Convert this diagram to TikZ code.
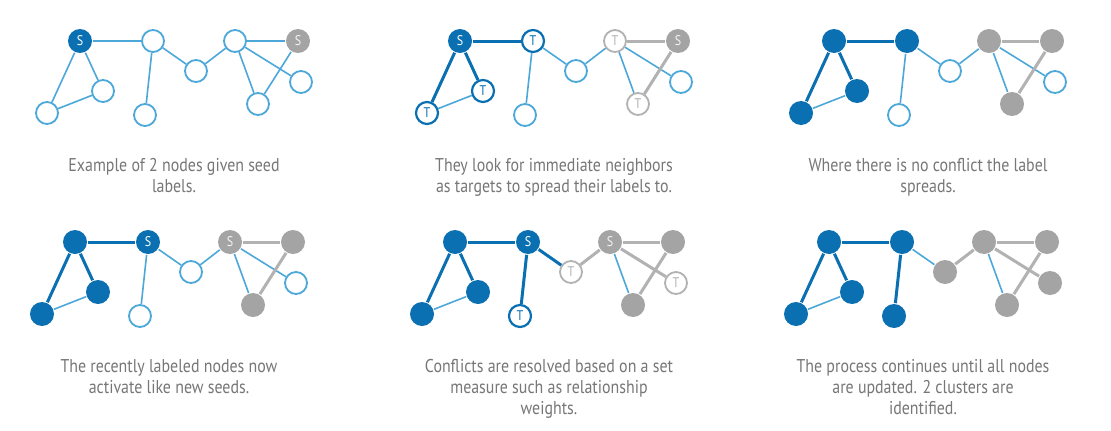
\documentclass[tikz,border=0pt]{standalone}
\usepackage{fontspec}
\setmainfont{PT Sans}[FakeStretch=0.86]
\usetikzlibrary{positioning}

\definecolor{lpblue}{HTML}{0A70B2}
\definecolor{lplight}{HTML}{4DA8DA}
\definecolor{lpgray}{HTML}{A4A4A4}
\definecolor{lpgrayline}{HTML}{B2B2B2}
\definecolor{lptext}{HTML}{777777}

\tikzset{
	vtx/.style={circle, minimum size=22pt, inner sep=0pt, line width=1.8pt},
	free/.style={vtx, draw=lplight, fill=white},
	bluedot/.style={vtx, draw=none, fill=lpblue, minimum size=24pt},
	graydot/.style={vtx, draw=none, fill=lpgray, minimum size=24pt},
	seedblue/.style={bluedot, label={[text=white, font=\fontsize{14}{14}\selectfont]center:S}},
	seedgray/.style={graydot, label={[text=white!88!lpgray, font=\fontsize{14}{14}\selectfont]center:S}},
	bluetgt/.style={vtx, draw=lpblue, fill=white, line width=2.2pt, label={[text=lpblue, font=\fontsize{14}{14}\selectfont]center:T}},
	graytgt/.style={vtx, draw=lpgrayline, fill=white, label={[text=lpgrayline, font=\fontsize{14}{14}\selectfont]center:T}},
	lnk/.style={lplight, line width=1.6pt},
	bluethick/.style={lpblue, line width=3pt},
	graythick/.style={lpgrayline, line width=3pt},
	caption/.style={anchor=north, align=center, text=lptext, font=\fontsize{18.5}{21}\selectfont},
	% per panel: node looks vS..vI, edge looks eSA..eGH
	vS/.style={}, vA/.style={}, vB/.style={}, vC/.style={}, vG/.style={},
	vD/.style={}, vE/.style={}, vF/.style={}, vH/.style={}, vI/.style={},
	eSA/.style={}, eSD/.style={}, eSE/.style={}, eDE/.style={}, eAF/.style={}, eAB/.style={},
	eBC/.style={}, eCG/.style={}, eCH/.style={}, eCI/.style={}, eGH/.style={}
}

% one panel of the network, #1 = caption
\newcommand{\lpnet}[1]{%
	\node[free, vS] (S) at (80,41) {};
	\node[free, vA] (A) at (153,41) {};
	\node[free, vB] (B) at (196,71) {};
	\node[free, vC] (C) at (235,41) {};
	\node[free, vG] (G) at (298,41) {};
	\node[free, vD] (D) at (103,91) {};
	\node[free, vE] (E) at (47,113) {};
	\node[free, vF] (F) at (145,115) {};
	\node[free, vH] (H) at (258,104) {};
	\node[free, vI] (I) at (301,82) {};
	\draw[lnk, eSA] (S) -- (A);
	\draw[lnk, eSD] (S) -- (D);
	\draw[lnk, eSE] (S) -- (E);
	\draw[lnk, eDE] (D) -- (E);
	\draw[lnk, eAF] (A) -- (F);
	\draw[lnk, eAB] (A) -- (B);
	\draw[lnk, eBC] (B) -- (C);
	\draw[lnk, eCG] (C) -- (G);
	\draw[lnk, eCH] (C) -- (H);
	\draw[lnk, eCI] (C) -- (I);
	\draw[lnk, eGH] (G) -- (H);
	\node[caption] (cap) at (174,155) {#1};
}

\begin{document}
\begin{tikzpicture}[x=1pt, y=-1pt]
	\useasboundingbox[fill=white] (0,0) rectangle (1111,431);

	% top row
	\begin{scope}[name prefix=a-, vS/.style=seedblue, vG/.style=seedgray]
		\lpnet{Example of 2 nodes given seed\\labels.}
	\end{scope}
	\begin{scope}[name prefix=b-, shift={(380,0)},
			vS/.style=seedblue, vA/.style=bluetgt, vD/.style=bluetgt, vE/.style=bluetgt,
			vC/.style=graytgt, vH/.style=graytgt, vG/.style=seedgray,
			eSA/.style=bluethick, eSD/.style=bluethick, eSE/.style=bluethick,
			eCG/.style=graythick, eGH/.style=graythick]
		\lpnet{They look for immediate neighbors\\as targets to spread their labels to.}
	\end{scope}
	\begin{scope}[name prefix=c-, shift={(754,0)},
			vS/.style=bluedot, vA/.style=bluedot, vD/.style=bluedot, vE/.style=bluedot,
			vC/.style=graydot, vH/.style=graydot, vG/.style=graydot,
			eSA/.style=bluethick, eSD/.style=bluethick, eSE/.style=bluethick,
			eCG/.style=graythick, eGH/.style=graythick]
		\lpnet{Where there is no conflict the label\\spreads.}
	\end{scope}

	% bottom row
	\begin{scope}[name prefix=d-, shift={(-5,201)},
			vS/.style=bluedot, vA/.style=seedblue, vD/.style=bluedot, vE/.style=bluedot,
			vC/.style=seedgray, vH/.style=graydot, vG/.style=graydot,
			eSA/.style=bluethick, eSD/.style=bluethick, eSE/.style=bluethick,
			eCG/.style=graythick, eGH/.style=graythick]
		\lpnet{The recently labeled nodes now\\activate like new seeds.}
	\end{scope}
	\begin{scope}[name prefix=e-, shift={(375,201)},
			vS/.style=bluedot, vA/.style=seedblue, vD/.style=bluedot, vE/.style=bluedot,
			vF/.style=bluetgt, vB/.style=graytgt, vI/.style=graytgt,
			vC/.style=seedgray, vH/.style=graydot, vG/.style=graydot,
			eSA/.style=bluethick, eSD/.style=bluethick, eSE/.style=bluethick,
			eAF/.style=bluethick, eAB/.style=bluethick,
			eBC/.style=graythick, eCG/.style=graythick, eCI/.style=graythick, eGH/.style=graythick]
		\lpnet{Conflicts are resolved based on a set\\measure such as relationship\\weights.}
	\end{scope}
	\begin{scope}[name prefix=f-, shift={(749,201)},
			vS/.style=bluedot, vA/.style=bluedot, vD/.style=bluedot, vE/.style=bluedot, vF/.style=bluedot,
			vB/.style=graydot, vC/.style=graydot, vG/.style=graydot, vH/.style=graydot, vI/.style=graydot,
			eSA/.style=bluethick, eSD/.style=bluethick, eSE/.style=bluethick, eAF/.style=bluethick,
			eBC/.style=graythick, eCG/.style=graythick, eCI/.style=graythick, eGH/.style=graythick]
		\lpnet{The process continues until all nodes\\are updated. 2 clusters are\\identified.}
	\end{scope}
\end{tikzpicture}
\end{document}
